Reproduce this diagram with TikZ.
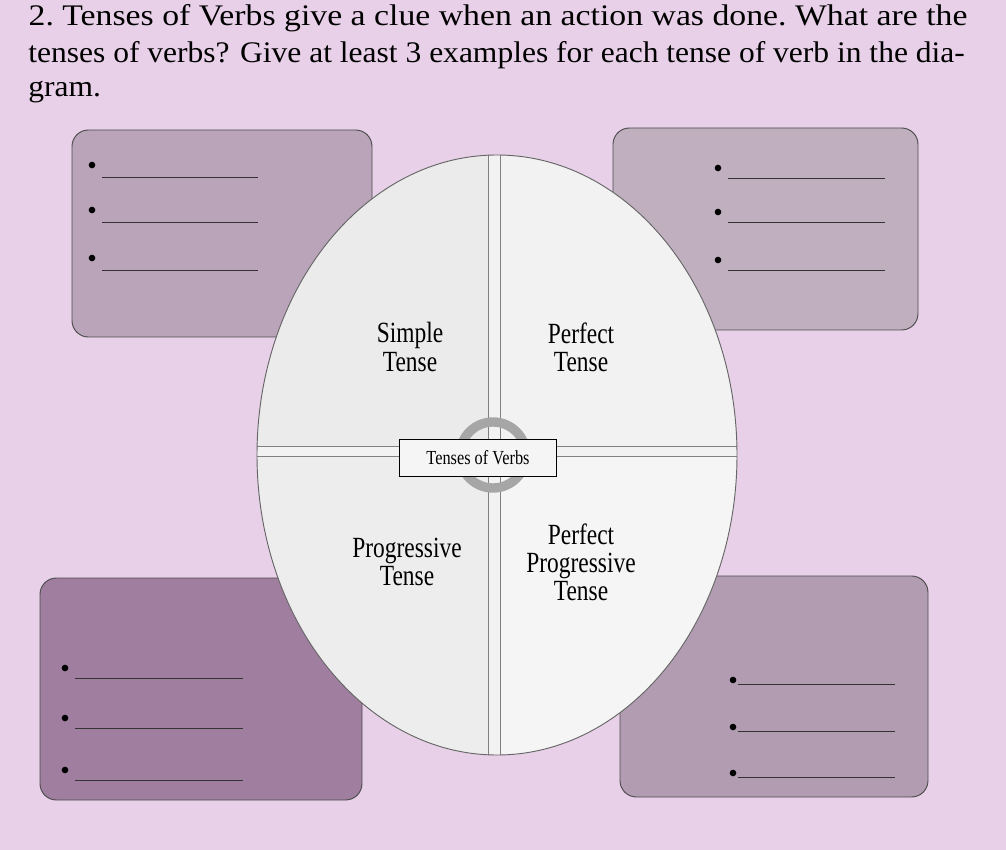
\documentclass[tikz,border=0pt]{standalone}
\usepackage{fontspec}
\setmainfont{Liberation Serif}
\begin{document}
\begin{tikzpicture}[x=0.03cm,y=-0.03cm,
  card/.style={draw=black!70,line width=0.8pt,rounded corners=14,fill=#1},
  blank/.style={draw=black!80,line width=0.6pt},
  dot/.style={circle,fill=black,inner sep=2pt},
  lbl/.style={font=\fontsize{25}{24}\selectfont,align=center,xscale=0.8},
  quad/.style={fill=gray!12,draw=black!50,line width=0.6pt},
  ttl/.style={anchor=west,font=\fontsize{25.5}{26}\selectfont}]
\fill[violet!18!white] (0,0) rectangle (1006,850);
\useasboundingbox (0,0) rectangle (1006,850);
% title
\node[ttl,xscale=1.13] (t1) at (24,18) {2.\ Tenses of Verbs give a clue when an action was done.\ What are the};
\node[ttl,xscale=1.055] (t2) at (24,55) {tenses of verbs? Give at least 3 examples for each tense of verb in the dia-};
\node[ttl,xscale=1.055] (t3) at (24,92) {gram.};
% cards
\draw[card=violet!30!gray!55] (72,130) rectangle (372,337);
\draw[card=violet!25!gray!50] (613,128) rectangle (918,330);
\draw[card=violet!35!gray!75] (40,578) rectangle (362,800);
\draw[card=violet!30!gray!60] (620,576) rectangle (928,797);
% ellipse quadrants
\begin{scope}
\clip (497,455) ellipse [x radius=240,y radius=300];
\fill[gray!10] (200,100) rectangle (800,800);
\draw[quad,fill=gray!16] (200,100) rectangle (488,446);
\draw[quad,fill=gray!10] (500,100) rectangle (800,446);
\draw[quad,fill=gray!14] (200,456) rectangle (488,800);
\draw[quad,fill=gray!8] (500,456) rectangle (800,800);
\end{scope}
\draw[black!60,line width=0.8pt] (497,455) ellipse [x radius=240,y radius=300];
\draw[gray!70,line width=8pt] (493,455) circle (33);
\node[draw=black,fill=gray!8,line width=0.8pt,minimum width=157*0.03cm,minimum height=37*0.03cm,font=\fontsize{17}{18}\selectfont] (c) at (478,458) {\scalebox{0.82}[1]{Tenses of Verbs}};
\node[lbl] (s) at (410,347) {Simple\\Tense};
\node[lbl] (p) at (581,347) {Perfect\\Tense};
\node[lbl] (g) at (407,562) {Progressive\\Tense};
\node[lbl] (pp) at (581,562) {Perfect\\Progressive\\Tense};
% bullets and blanks
\foreach \y in {165,210,258}{\node[dot] at (92,\y) {}; \draw[blank] (102,\y+12) -- (258,\y+12);}
\foreach \y in {168,212,260}{\node[dot] at (718,\y) {}; \draw[blank] (728,\y+10) -- (885,\y+10);}
\foreach \y in {668,718,770}{\node[dot] at (65,\y) {}; \draw[blank] (75,\y+10) -- (243,\y+10);}
\foreach \y in {680,727,773}{\node[dot] at (733,\y) {}; \draw[blank] (738,\y+4) -- (895,\y+4);}
\end{tikzpicture}
\end{document}
